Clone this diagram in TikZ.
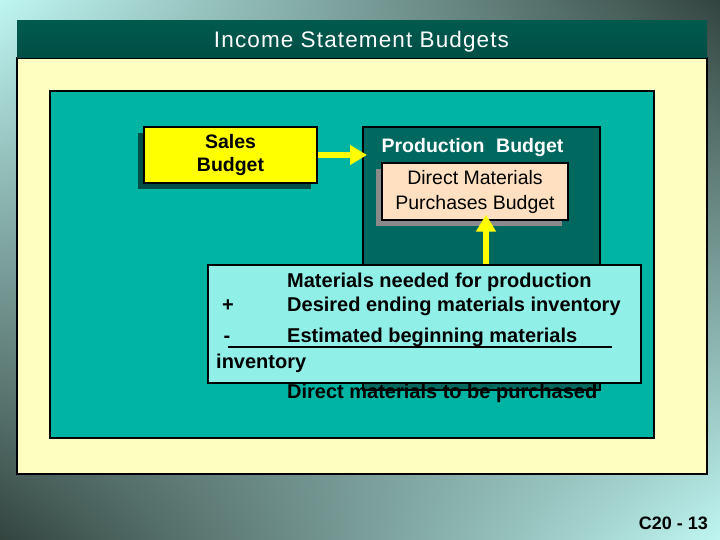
\documentclass[tikz,border=0pt]{standalone}
\usepackage{fontspec}
\setmainfont{Liberation Sans}
\newfontfamily\titlefont[LetterSpace=5]{Liberation Sans}
\usetikzlibrary{arrows.meta,shadows,shadings,positioning}
\definecolor{bgpale}{HTML}{BFF6F2}
\definecolor{bgdark}{HTML}{33443F}
\definecolor{titletop}{HTML}{005A4E}
\definecolor{titlemid}{HTML}{009686}
\definecolor{titlelow}{HTML}{004E44}
\definecolor{panelcream}{HTML}{FEFEC0}
\definecolor{innerteal}{HTML}{00B4A4}
\definecolor{proddark}{HTML}{00685E}
\definecolor{calccyan}{HTML}{90F0E8}
\definecolor{peach}{HTML}{FFE0C0}
\definecolor{salesyellow}{HTML}{FFFF00}
\definecolor{salesshadow}{HTML}{004C46}
\definecolor{shadowgray}{HTML}{8A8A8A}
\tikzset{
>={Triangle[width=19pt,length=17pt]},
  budgetbox/.style={
    rectangle,
    draw=black, line width=2pt,
    inner sep=0pt,
    align=center,
    font=\bfseries\fontsize{19.5}{23}\selectfont},
  frame/.style={rectangle, draw=black, line width=2pt, inner sep=0pt},
  yarrow/.style={draw=salesyellow, line width=6pt, ->},
  calcline/.style={anchor=base west, inner sep=0pt,
    font=\bfseries\fontsize{20}{23}\selectfont},
  boxshadow/.style={drop shadow={shadow xshift=-6pt, shadow yshift=-6pt,
    fill=#1, opacity=1}},
}

\begin{document}
\begin{tikzpicture}[x=1pt,y=-1pt]
  \useasboundingbox (0,0) rectangle (720,540);
  \shade[upper left=bgpale, upper right=bgdark, lower left=bgdark,
    lower right=bgpale] (0,0) rectangle (720,540);
  %% the slide frame
  \node[frame, fill=panelcream, minimum width=690pt, minimum height=416pt]
    (panel) at (362,266) {};
  \node[rectangle, inner sep=0pt, minimum width=690pt, minimum height=37pt,
    top color=titletop, middle color=titlemid, bottom color=titlelow]
    (title) at (362,39.5) {};
  \node[anchor=base, inner sep=0pt, text=white,
    font=\titlefont\fontsize{22.5}{25}\selectfont]
    (titletext) at (361.5,47.5) {Income Statement Budgets};
  \node[frame, fill=innerteal, minimum width=604pt, minimum height=347pt]
    (inner) at (352,264.5) {};
  %% budgets
  \node[budgetbox, fill=proddark, minimum width=237pt, minimum height=263pt]
    (prod) at (481.5,258.5) {};
  \node[anchor=base, inner sep=0pt, text=white,
    font=\bfseries\fontsize{19.5}{23}\selectfont]
    (prodlabel) at (472.5,153) {Production\hspace{0.6em}Budget};
  \node[budgetbox, fill=salesyellow, boxshadow=salesshadow,
    minimum width=173pt, minimum height=56pt]
    (sales) at (230.5,155) {Sales\\Budget};
  \draw[yarrow, shorten >=-5pt] (sales.east) -- (prod.west |- sales.east);
  \node[budgetbox, fill=peach, boxshadow=shadowgray,
    font=\fontsize{19.5}{25}\selectfont,
    minimum width=186pt, minimum height=57pt]
    (dmp) at (475,192) {Direct Materials\\Purchases Budget};
  \coordinate (feed) at (486,270);
  \draw[yarrow, shorten >=-7pt] (feed) -- (feed |- dmp.south);
  %% the purchases calculation
  \node[frame, fill=calccyan, minimum width=433pt, minimum height=118pt]
    (calc) at (424.5,324) {};
  \node[calcline] (needed) at (287,287) {Materials needed for production};
  \node[calcline, anchor=base] (plus) at (228,311) {+};
  \node[calcline] (desired) at (287,311) {Desired ending materials inventory};
  \node[calcline, anchor=base] (minus) at (227,342) {-};
  \node[calcline] (begin) at (287,342) {Estimated beginning materials};
  \draw[line width=1.5pt] (228,347) -- (612,347);
  \node[calcline] (inv) at (216,368) {inventory};
  \node[calcline] (result) at (287,398) {Direct materials to be purchased};
  \node[anchor=base east, inner sep=0pt,
    font=\bfseries\fontsize{18}{20}\selectfont]
    (slideno) at (708,529) {C20 - 13};
\end{tikzpicture}
\end{document}
